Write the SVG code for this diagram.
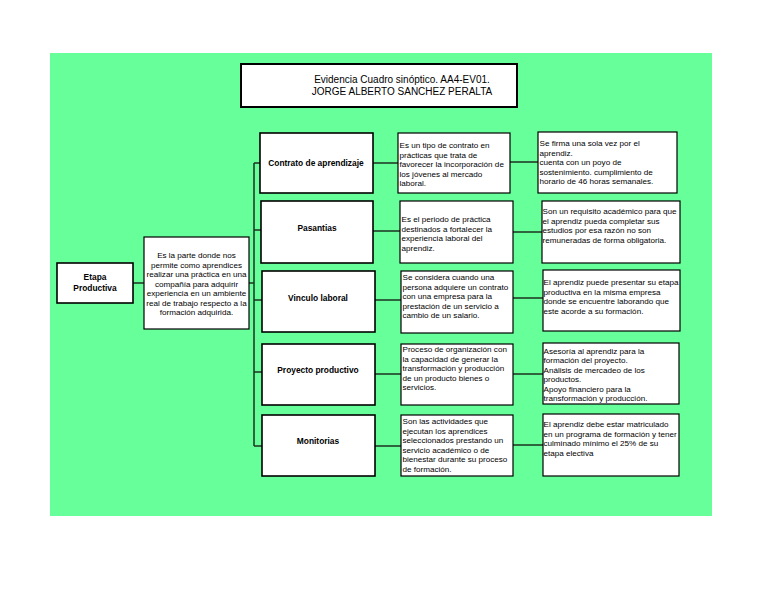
<svg xmlns="http://www.w3.org/2000/svg" width="768" height="594" viewBox="0 0 768 594">
<style>
.box{fill:#fff;stroke:#000;stroke-width:1.2}
.cat{fill:#fff;stroke:#000;stroke-width:1.6}
.t{font-family:"Liberation Sans",Arial,sans-serif;font-size:8.1px;fill:#000}
.b{font-family:"Liberation Sans",Arial,sans-serif;font-size:8.4px;font-weight:bold;fill:#000;text-anchor:middle}
.c{text-anchor:middle}
.conn{stroke:#1c3322;stroke-width:1.5;fill:none}
</style>
<rect x="0" y="0" width="768" height="594" fill="#fff"/>
<rect x="50" y="53" width="662" height="463" fill="#66ff99"/>

<g id="connectors">
<path class="conn" d="M133 283H144M249 283H254M254 163V446M254 163H260M254 230H261M254 300H262M254 372H262M254 446H262"/>
<path class="conn" d="M372 163H398M372 231H400M375 300H401M375 374H401M375 446H401"/>
<path class="conn" d="M510 162H538M513 232H542M513 298H543M513 374H543M513 445H543"/>
</g>

<g id="title">
<rect x="241" y="64" width="276" height="43" fill="#fff" stroke="#000" stroke-width="2"/>
<text class="t c" x="402" y="83" style="font-size:10px">Evidencia Cuadro sinóptico. AA4-EV01.</text>
<text class="t c" x="402" y="95" style="font-size:10px">JORGE ALBERTO SANCHEZ PERALTA</text>
</g>

<g id="etapa">
<rect class="cat" x="57" y="263" width="76" height="40"/>
<text class="b" x="95" y="280">Etapa</text>
<text class="b" x="95" y="291">Productiva</text>
</g>

<g id="etapa-desc">
<rect class="box" x="144" y="237" width="105" height="92"/>
<text class="t c" x="196.5" y="258">Es la parte donde nos</text>
<text class="t c" x="196.5" y="267.5">permite como aprendices</text>
<text class="t c" x="196.5" y="277">realizar una práctica en una</text>
<text class="t c" x="196.5" y="286.5">compañía para adquirir</text>
<text class="t c" x="196.5" y="296">experiencia en un ambiente</text>
<text class="t c" x="196.5" y="305.5">real de trabajo respecto a la</text>
<text class="t c" x="196.5" y="315">formación adquirida.</text>
</g>

<g id="contrato">
<rect class="cat" x="260" y="133" width="113" height="60"/>
<text class="b" x="316" y="166">Contrato de aprendizaje</text>
</g>
<g id="contrato-desc">
<rect class="box" x="398" y="133" width="112" height="60"/>
<text class="t" x="399.5" y="148">Es un tipo de contrato en</text>
<text class="t" x="399.5" y="157.5">prácticas que trata de</text>
<text class="t" x="399.5" y="167">favorecer la incorporación de</text>
<text class="t" x="399.5" y="176.5">los jóvenes al mercado</text>
<text class="t" x="399.5" y="186">laboral.</text>
</g>
<g id="contrato-nota">
<rect class="box" x="538" y="132" width="139" height="61"/>
<text class="t" x="539.5" y="146">Se firma una sola vez por el</text>
<text class="t" x="539.5" y="155.5">aprendiz.</text>
<text class="t" x="539.5" y="165">cuenta con un poyo de</text>
<text class="t" x="539.5" y="174.5">sostenimiento. cumplimiento de</text>
<text class="t" x="539.5" y="184">horario de 46 horas semanales.</text>
</g>

<g id="pasantias">
<rect class="cat" x="261" y="201" width="112" height="62"/>
<text class="b" x="317" y="231">Pasantias</text>
</g>
<g id="pasantias-desc">
<rect class="box" x="400" y="201" width="113" height="62"/>
<text class="t" x="401.5" y="222">Es el periodo de práctica</text>
<text class="t" x="401.5" y="231.5">destinados a fortalecer la</text>
<text class="t" x="401.5" y="241">experiencia laboral del</text>
<text class="t" x="401.5" y="250.5">aprendiz.</text>
</g>
<g id="pasantias-nota">
<rect class="box" x="542" y="201" width="138" height="62"/>
<text class="t" x="542.5" y="214">Son un requisito académico para que</text>
<text class="t" x="542.5" y="223.5">el aprendiz pueda completar sus</text>
<text class="t" x="542.5" y="233">estudios por esa razón no son</text>
<text class="t" x="542.5" y="242.5">remuneradas de forma obligatoria.</text>
</g>

<g id="vinculo">
<rect class="cat" x="262" y="271" width="113" height="61"/>
<text class="b" x="318" y="301">Vinculo laboral</text>
</g>
<g id="vinculo-desc">
<rect class="box" x="401" y="271" width="112" height="62"/>
<text class="t" x="402.5" y="280">Se considera cuando una</text>
<text class="t" x="402.5" y="289.5">persona adquiere un contrato</text>
<text class="t" x="402.5" y="299">con una empresa para la</text>
<text class="t" x="402.5" y="308.5">prestación de un servicio a</text>
<text class="t" x="402.5" y="318">cambio de un salario.</text>
</g>
<g id="vinculo-nota">
<rect class="box" x="543" y="270" width="137" height="61"/>
<text class="t" x="543.5" y="285">El aprendiz puede presentar su etapa</text>
<text class="t" x="543.5" y="294.5">productiva en la misma empresa</text>
<text class="t" x="543.5" y="304">donde se encuentre laborando que</text>
<text class="t" x="543.5" y="313.5">este acorde a su formación.</text>
</g>

<g id="proyecto">
<rect class="cat" x="262" y="344" width="113" height="61"/>
<text class="b" x="318" y="373">Proyecto productivo</text>
</g>
<g id="proyecto-desc">
<rect class="box" x="401" y="344" width="112" height="61"/>
<text class="t" x="402.5" y="352">Proceso de organización con</text>
<text class="t" x="402.5" y="361.5">la capacidad de generar la</text>
<text class="t" x="402.5" y="371">transformación y producción</text>
<text class="t" x="402.5" y="380.5">de un producto bienes o</text>
<text class="t" x="402.5" y="390">servicios.</text>
</g>
<g id="proyecto-nota">
<rect class="box" x="543" y="343" width="136" height="61"/>
<text class="t" x="543.5" y="353.5">Asesoría al aprendiz para la</text>
<text class="t" x="543.5" y="363">formación del proyecto.</text>
<text class="t" x="543.5" y="372.5">Análisis de mercadeo de los</text>
<text class="t" x="543.5" y="382">productos.</text>
<text class="t" x="543.5" y="391.5">Apoyo financiero para la</text>
<text class="t" x="543.5" y="401">transformación y producción.</text>
</g>

<g id="monitorias">
<rect class="cat" x="262" y="415" width="113" height="61"/>
<text class="b" x="318" y="444">Monitorias</text>
</g>
<g id="monitorias-desc">
<rect class="box" x="401" y="415" width="112" height="61"/>
<text class="t" x="402.5" y="424">Son las actividades que</text>
<text class="t" x="402.5" y="433.5">ejecutan los aprendices</text>
<text class="t" x="402.5" y="443">seleccionados prestando un</text>
<text class="t" x="402.5" y="452.5">servicio académico o de</text>
<text class="t" x="402.5" y="462">bienestar durante su proceso</text>
<text class="t" x="402.5" y="471.5">de formación.</text>
</g>
<g id="monitorias-nota">
<rect class="box" x="543" y="414" width="136" height="62"/>
<text class="t" x="543.5" y="427">El aprendiz debe estar matriculado</text>
<text class="t" x="543.5" y="436.5">en un programa de formación y tener</text>
<text class="t" x="543.5" y="446">culminado mínimo el 25% de su</text>
<text class="t" x="543.5" y="455.5">etapa electiva</text>
</g>
</svg>
